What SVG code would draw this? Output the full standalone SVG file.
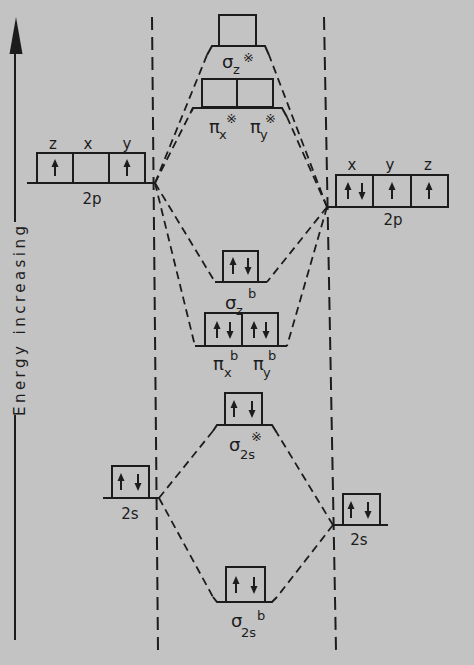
<svg xmlns="http://www.w3.org/2000/svg" width="474" height="665" viewBox="0 0 474 665">
<style>
.box{fill:none;stroke:#1c1c1c;stroke-width:2}
.lvl{fill:none;stroke:#1c1c1c;stroke-width:2}
.dash{fill:none;stroke:#1c1c1c;stroke-width:1.8;stroke-dasharray:8 5}
.vdash{fill:none;stroke:#1c1c1c;stroke-width:2;stroke-dasharray:13 7}
.el line{stroke:#1c1c1c;stroke-width:2}
.el polygon{fill:#1c1c1c}
text{font-family:"DejaVu Sans","Liberation Sans","Noto Sans CJK SC",sans-serif;fill:#1c1c1c}
.lab{font-size:15px;text-anchor:middle}
.gr{font-size:18px}
.sub{font-size:13px}
.st{font-size:13px}
</style>
<defs>
<g id="up" class="el"><line x1="0" y1="8" x2="0" y2="-3"/><polygon points="0,-9 -3.5,-1 3.5,-1"/></g>
<g id="dn" class="el"><line x1="0" y1="-8" x2="0" y2="3"/><polygon points="0,9 -3.5,1 3.5,1"/></g>
</defs>
<rect x="0" y="0" width="474" height="665" fill="#c3c3c3"/>

<g id="energy-axis">
<line x1="15" y1="50" x2="15" y2="222" stroke="#1c1c1c" stroke-width="2"/>
<line x1="15" y1="415" x2="15" y2="640" stroke="#1c1c1c" stroke-width="2"/>
<polygon points="16,17 9.5,54 22.5,54" fill="#1c1c1c"/>
<text transform="translate(25,321) rotate(-90)" text-anchor="middle" font-size="15" textLength="190" lengthAdjust="spacing">Energy increasing</text>
</g>

<g id="guides">
<line class="vdash" x1="152" y1="17" x2="158" y2="650"/>
<line class="vdash" x1="324" y1="17" x2="336" y2="650"/>
</g>

<g id="connectors">
<polyline class="dash" points="155,183 207,55"/>
<polyline class="dash" points="327,207 269,55"/>
<polyline class="dash" points="155,183 193,108"/>
<polyline class="dash" points="327,207 287,117"/>
<polyline class="dash" points="155,183 215,282"/>
<polyline class="dash" points="327,207 267,282"/>
<polyline class="dash" points="155,183 195,346"/>
<polyline class="dash" points="327,207 287,346"/>
<polyline class="dash" points="159,498 213,431"/>
<polyline class="dash" points="333,525 277,433"/>
<polyline class="dash" points="159,498 213,597"/>
<polyline class="dash" points="333,525 277,597"/>
</g>

<g id="C-2p">
<rect class="box" x="37" y="153" width="108" height="30"/>
<line class="box" x1="73" y1="153" x2="73" y2="183"/>
<line class="box" x1="109" y1="153" x2="109" y2="183"/>
<line class="lvl" x1="27" y1="183" x2="156" y2="183"/>
<use href="#up" x="55" y="168"/>
<use href="#up" x="127" y="168"/>
<text class="lab" x="53" y="149">z</text>
<text class="lab" x="88" y="149">x</text>
<text class="lab" x="127" y="149">y</text>
<text class="lab" x="92" y="204">2p</text>
</g>

<g id="O-2p">
<rect class="box" x="336" y="175" width="112" height="32"/>
<line class="box" x1="373" y1="175" x2="373" y2="207"/>
<line class="box" x1="411" y1="175" x2="411" y2="207"/>
<line class="lvl" x1="326" y1="207" x2="336" y2="207"/>
<use href="#up" x="348" y="191"/>
<use href="#dn" x="362" y="191"/>
<use href="#up" x="392" y="191"/>
<use href="#up" x="429" y="191"/>
<text class="lab" x="352" y="170">x</text>
<text class="lab" x="390" y="170">y</text>
<text class="lab" x="428" y="170">z</text>
<text class="lab" x="393" y="225">2p</text>
</g>

<g id="sigma-z-star">
<rect class="box" x="219" y="15" width="37" height="31"/>
<polyline class="lvl" points="207,55 212,46 265,46 269,55"/>
<text class="gr" x="222" y="68">σ</text>
<text class="sub" x="233" y="74">z</text>
<text class="st" x="243" y="62">※</text>
</g>

<g id="pi-star">
<rect class="box" x="202" y="79" width="71" height="28"/>
<line class="box" x1="237" y1="79" x2="237" y2="107"/>
<polyline class="lvl" points="191,112 193,108 282,108 287,117"/>
<text class="gr" x="209" y="133">π</text>
<text class="sub" x="219" y="139">x</text>
<text class="st" x="226" y="123">※</text>
<text class="gr" x="250" y="133">π</text>
<text class="sub" x="260" y="139">y</text>
<text class="st" x="265" y="123">※</text>
</g>

<g id="sigma-z-b">
<rect class="box" x="223" y="251" width="35" height="31"/>
<line class="lvl" x1="215" y1="282" x2="267" y2="282"/>
<use href="#up" x="233" y="266"/>
<use href="#dn" x="248" y="266"/>
<text class="gr" x="225" y="309">σ</text>
<text class="sub" x="236" y="315">z</text>
<text class="sub" x="248" y="298">b</text>
</g>

<g id="pi-b">
<rect class="box" x="205" y="313" width="73" height="33"/>
<line class="box" x1="242" y1="313" x2="242" y2="346"/>
<line class="lvl" x1="195" y1="346" x2="287" y2="346"/>
<use href="#up" x="217" y="330"/>
<use href="#dn" x="230" y="330"/>
<use href="#up" x="254" y="330"/>
<use href="#dn" x="266" y="330"/>
<text class="gr" x="213" y="370">π</text>
<text class="sub" x="224" y="377">x</text>
<text class="sub" x="230" y="360">b</text>
<text class="gr" x="253" y="370">π</text>
<text class="sub" x="263" y="377">y</text>
<text class="sub" x="268" y="360">b</text>
</g>

<g id="sigma-2s-star">
<rect class="box" x="225" y="393" width="37" height="32"/>
<polyline class="lvl" points="213,431 217,425 272,425 277,433"/>
<use href="#up" x="234" y="409"/>
<use href="#dn" x="252" y="409"/>
<text class="gr" x="229" y="451">σ</text>
<text class="sub" x="240" y="459">2s</text>
<text class="st" x="251" y="441">※</text>
</g>

<g id="C-2s">
<rect class="box" x="112" y="466" width="37" height="32"/>
<line class="lvl" x1="103" y1="498" x2="160" y2="498"/>
<use href="#up" x="121" y="482"/>
<use href="#dn" x="138" y="482"/>
<text class="lab" x="130" y="519">2s</text>
</g>

<g id="O-2s">
<rect class="box" x="343" y="494" width="37" height="31"/>
<line class="lvl" x1="332" y1="525" x2="388" y2="525"/>
<use href="#up" x="351" y="510"/>
<use href="#dn" x="368" y="510"/>
<text class="lab" x="359" y="545">2s</text>
</g>

<g id="sigma-2s-b">
<rect class="box" x="226" y="567" width="39" height="35"/>
<polyline class="lvl" points="213,597 217,602 272,602 277,597"/>
<use href="#up" x="236" y="585"/>
<use href="#dn" x="254" y="585"/>
<text class="gr" x="231" y="627">σ</text>
<text class="sub" x="241" y="637">2s</text>
<text class="sub" x="257" y="620">b</text>
</g>
</svg>
